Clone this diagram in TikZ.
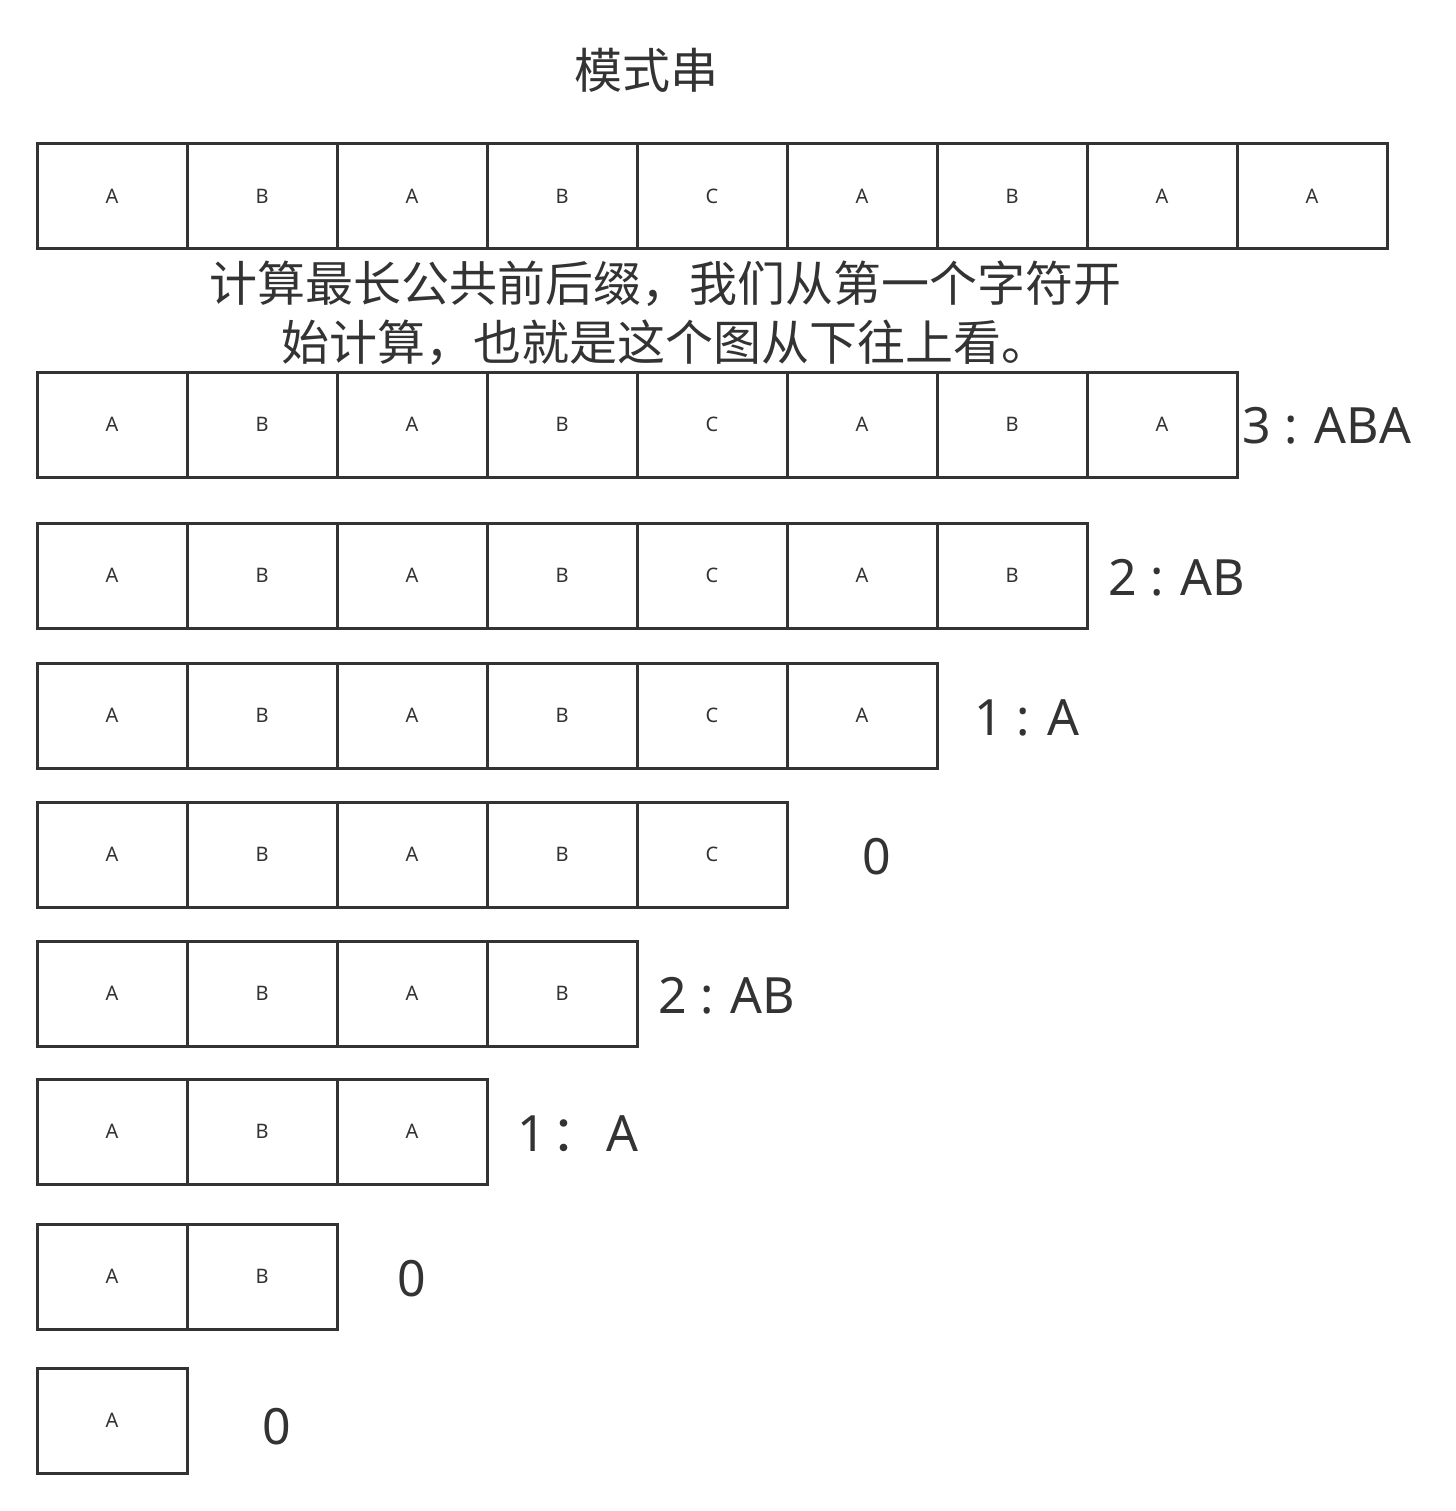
\documentclass[tikz,border=0pt]{standalone}
\usepackage{fontspec}
\setmainfont{Noto Sans}
\newfontfamily\cjk{Noto Sans CJK SC}
\definecolor{linec}{HTML}{333333}
\begin{document}
\begin{tikzpicture}[x=1pt,y=-1pt]
\tikzset{
  cell/.style={draw=linec, line width=3pt, minimum width=150pt, minimum height=105pt, inner sep=0pt, text=linec, font=\fontsize{20}{22}\selectfont},
  lbl/.style={text=linec, inner sep=0pt, font=\fontsize{50}{60}\selectfont},
  cjktext/.style={text=linec, inner sep=0pt, align=center, font=\cjk\fontsize{48}{59}\selectfont}
}
\fill[white] (0,0) rectangle (1455,1511);
\useasboundingbox (0,0) rectangle (1455,1511);
\node[cjktext, font=\cjk\fontsize{48}{50}\selectfont] (title) at (646,70) {模式串};
\foreach \n/\y [count=\r] in {9/196.5, 8/424.5, 7/575.5, 6/715.5, 5/854.5, 4/993.5, 3/1131.5, 2/1276.5, 1/1420.5} {
  \foreach \L [count=\i] in {A,B,A,B,C,A,B,A,A} {
    \ifnum\i>\n\relax\else
      \node[cell] (c\r-\i) at ({37+150*\i-75}, \y) {\L};
    \fi
  }
}
\node[cjktext] (desc) at (665,313) {计算最长公共前后缀，我们从第一个字符开\\始计算，也就是这个图从下往上看。};
\node[lbl] (l8) at (1327,426) {3 : ABA};
\node[lbl] (l7) at (1177,578) {2 : AB};
\node[lbl] (l6) at (1027,718) {1 : A};
\node[lbl] (l5) at (877,857) {0};
\node[lbl] (l4) at (727,996) {2 : AB};
\node[lbl] (l3) at (578,1134) {1\hspace{5pt}{\cjk ：}\hspace{5pt}A};
\node[lbl] (l2) at (412,1279) {0};
\node[lbl] (l1) at (277,1427) {0};
\end{tikzpicture}
\end{document}
